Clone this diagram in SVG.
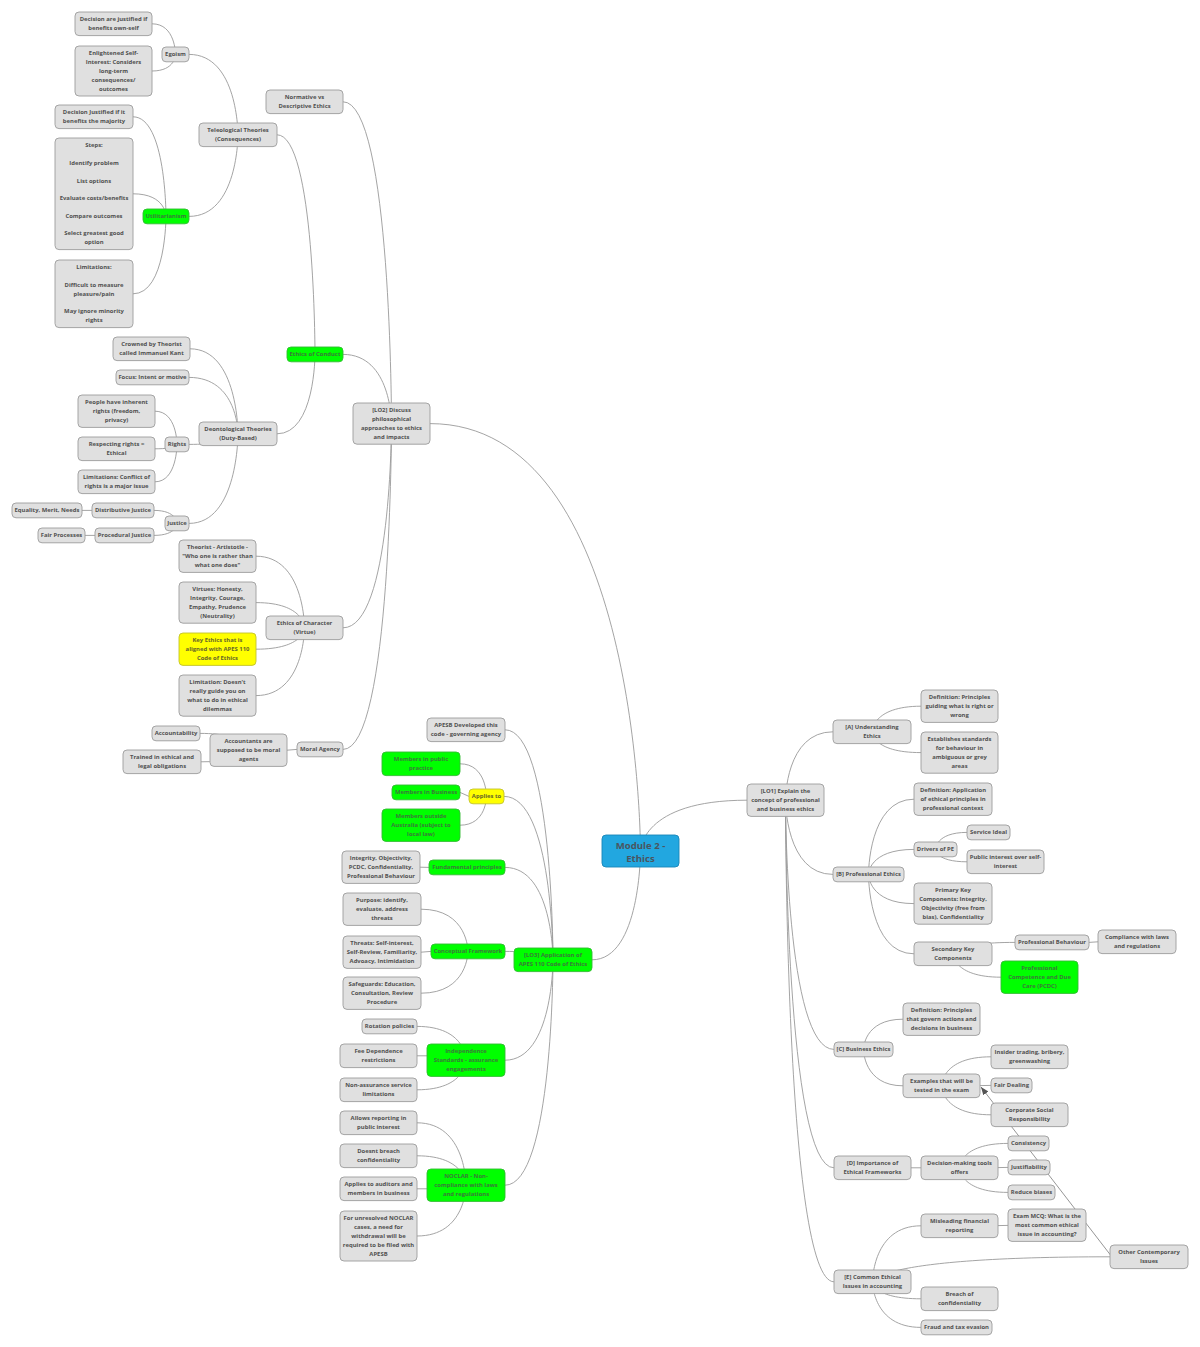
<svg xmlns="http://www.w3.org/2000/svg" width="1200" height="1347" viewBox="0 0 1200 1347">
<style>
.c{fill:none;stroke:#9a9a9a;stroke-width:0.9}
.r{fill:none;stroke:#8a8a8a;stroke-width:0.9}
.n{fill:#e0e0e0;stroke:#9c9c9c;stroke-width:0.9}
.g{fill:#00ff00;stroke:#33bb33;stroke-width:0.9}
.y{fill:#ffff00;stroke:#c2c22e;stroke-width:0.9}
.b{fill:#22a7e0;stroke:#1a86b8;stroke-width:0.9}
.t{font-family:"Open Sans","Noto Sans",sans-serif;font-weight:700;font-size:5.9px;fill:#505050;text-anchor:middle;dominant-baseline:central}
.tg{fill:#3b7a3b}
.ty{fill:#66662a}
.tb{font-size:9.6px;fill:#4a5560}
</style>
<defs>
<marker id="arr" viewBox="0 0 10 10" refX="10" refY="5" markerWidth="8" markerHeight="8" markerUnits="userSpaceOnUse" orient="auto"><path d="M0 1L10 5L0 9z" fill="#555"/></marker>
</defs>
<g id="connectors">
<path class="c" d="M152 23.8C175.5 23.8 175.5 54.4 175.5 54.4"/>
<path class="c" d="M152 71C175.5 71 175.5 54.4 175.5 54.4"/>
<path class="c" d="M189 54.4C238 54.4 238 134.8 238 134.8"/>
<path class="c" d="M189 216.4C238 216.4 238 134.8 238 134.8"/>
<path class="c" d="M133 116.8C166 116.8 166 216.4 166 216.4"/>
<path class="c" d="M133 193.8C166 193.8 166 216.4 166 216.4"/>
<path class="c" d="M133 293.8C166 293.8 166 216.4 166 216.4"/>
<path class="c" d="M277 134.8C315 134.8 315 354.4 315 354.4"/>
<path class="c" d="M277 433.8C315 433.8 315 354.4 315 354.4"/>
<path class="c" d="M343 101.8C391.5 101.8 391.5 423.6 391.5 423.6"/>
<path class="c" d="M343 354.4C391.5 354.4 391.5 423.6 391.5 423.6"/>
<path class="c" d="M343 627.8C391.5 627.8 391.5 423.6 391.5 423.6"/>
<path class="c" d="M343 749.4C391.5 749.4 391.5 423.6 391.5 423.6"/>
<path class="c" d="M190 348.8C238 348.8 238 433.8 238 433.8"/>
<path class="c" d="M189 377.4C238 377.4 238 433.8 238 433.8"/>
<path class="c" d="M189 444.4C238 444.4 238 433.8 238 433.8"/>
<path class="c" d="M189 523.4C238 523.4 238 433.8 238 433.8"/>
<path class="c" d="M155 411.2C177 411.2 177 444.4 177 444.4"/>
<path class="c" d="M155 448.8C177 448.8 177 444.4 177 444.4"/>
<path class="c" d="M155 481.8C177 481.8 177 444.4 177 444.4"/>
<path class="c" d="M154 510.4C177 510.4 177 523.4 177 523.4"/>
<path class="c" d="M154 535.4C177 535.4 177 523.4 177 523.4"/>
<path class="c" d="M82 510.4L92 510.4"/>
<path class="c" d="M85 535.4L95 535.4"/>
<path class="c" d="M256 556.2C304.5 556.2 304.5 627.8 304.5 627.8"/>
<path class="c" d="M256 602.6C304.5 602.6 304.5 627.8 304.5 627.8"/>
<path class="c" d="M256 649.2C304.5 649.2 304.5 627.8 304.5 627.8"/>
<path class="c" d="M256 695.6C304.5 695.6 304.5 627.8 304.5 627.8"/>
<path class="c" d="M287 750.2L297 749.4"/>
<path class="c" d="M200 733.4C248.5 733.4 248.5 750.2 248.5 750.2"/>
<path class="c" d="M201 761.8C248.5 761.8 248.5 750.2 248.5 750.2"/>
<path class="c" d="M430 423.6C640.5 423.6 640.5 851 640.5 851"/>
<path class="c" d="M592 959.8C640.5 959.8 640.5 851 640.5 851"/>
<path class="c" d="M747 800.2C640.5 800.2 640.5 851 640.5 851"/>
<path class="c" d="M505 729.8C553 729.8 553 959.8 553 959.8"/>
<path class="c" d="M504 796.4C553 796.4 553 959.8 553 959.8"/>
<path class="c" d="M505 867.4C553 867.4 553 959.8 553 959.8"/>
<path class="c" d="M505 951.4C553 951.4 553 959.8 553 959.8"/>
<path class="c" d="M505 1060.2C553 1060.2 553 959.8 553 959.8"/>
<path class="c" d="M505 1185.2C553 1185.2 553 959.8 553 959.8"/>
<path class="c" d="M460 763.8C486.5 763.8 486.5 796.4 486.5 796.4"/>
<path class="c" d="M460 792.4L469 796.4"/>
<path class="c" d="M460 825.2C486.5 825.2 486.5 796.4 486.5 796.4"/>
<path class="c" d="M420 867.2L429 867.4"/>
<path class="c" d="M421 909.2C468 909.2 468 951.4 468 951.4"/>
<path class="c" d="M421 952.2L431 951.4"/>
<path class="c" d="M421 993.2C468 993.2 468 951.4 468 951.4"/>
<path class="c" d="M417 1026.4C466 1026.4 466 1060.2 466 1060.2"/>
<path class="c" d="M417 1055.8L427 1055.8"/>
<path class="c" d="M417 1089.8C466 1089.8 466 1060.2 466 1060.2"/>
<path class="c" d="M417 1122.8C466 1122.8 466 1185.2 466 1185.2"/>
<path class="c" d="M417 1155.8C466 1155.8 466 1185.2 466 1185.2"/>
<path class="c" d="M417 1188.8L427 1188.8"/>
<path class="c" d="M417 1236C466 1236 466 1185.2 466 1185.2"/>
<path class="c" d="M833 731.8C785.5 731.8 785.5 800.2 785.5 800.2"/>
<path class="c" d="M833 874.4C785.5 874.4 785.5 800.2 785.5 800.2"/>
<path class="c" d="M834 1049.4C785.5 1049.4 785.5 800.2 785.5 800.2"/>
<path class="c" d="M834 1167.8C785.5 1167.8 785.5 800.2 785.5 800.2"/>
<path class="c" d="M834 1281.8C785.5 1281.8 785.5 800.2 785.5 800.2"/>
<path class="c" d="M921 706.2C872 706.2 872 731.8 872 731.8"/>
<path class="c" d="M921 752.6C872 752.6 872 731.8 872 731.8"/>
<path class="c" d="M914 799.2C868.5 799.2 868.5 874.4 868.5 874.4"/>
<path class="c" d="M914 849.4C868.5 849.4 868.5 874.4 868.5 874.4"/>
<path class="c" d="M914 903.6C868.5 903.6 868.5 874.4 868.5 874.4"/>
<path class="c" d="M914 953.8C868.5 953.8 868.5 874.4 868.5 874.4"/>
<path class="c" d="M967 832.4C935.5 832.4 935.5 849.4 935.5 849.4"/>
<path class="c" d="M967 861.8C935.5 861.8 935.5 849.4 935.5 849.4"/>
<path class="c" d="M1015 942.4C953 942.4 953 953.8 953 953.8"/>
<path class="c" d="M1001 977.2C953 977.2 953 953.8 953 953.8"/>
<path class="c" d="M1089 942.4L1098 941.8"/>
<path class="c" d="M903 1019.2C863.5 1019.2 863.5 1049.4 863.5 1049.4"/>
<path class="c" d="M903 1085.8C863.5 1085.8 863.5 1049.4 863.5 1049.4"/>
<path class="c" d="M991 1056.8C941.5 1056.8 941.5 1085.8 941.5 1085.8"/>
<path class="c" d="M991 1085.4L980 1085.6"/>
<path class="c" d="M991 1114.8C941.5 1114.8 941.5 1085.8 941.5 1085.8"/>
<path class="c" d="M921 1167.8L911 1167.8"/>
<path class="c" d="M1008 1143.4C959.5 1143.4 959.5 1167.8 959.5 1167.8"/>
<path class="c" d="M1008 1167.4L998 1167.6"/>
<path class="c" d="M1008 1192.4C959.5 1192.4 959.5 1167.8 959.5 1167.8"/>
<path class="c" d="M921 1225.8C872.5 1225.8 872.5 1281.8 872.5 1281.8"/>
<path class="c" d="M1110 1256.8C872.5 1256.8 872.5 1281.8 872.5 1281.8"/>
<path class="c" d="M921 1298.8C872.5 1298.8 872.5 1281.8 872.5 1281.8"/>
<path class="c" d="M921 1327.4C872.5 1327.4 872.5 1281.8 872.5 1281.8"/>
<path class="c" d="M998 1225.6L1008 1225.4"/>
<path class="r" d="M1112 1257L981 1087" marker-end="url(#arr)"/>
</g>
<g id="n-egoism-a"><rect class="n" x="75" y="12" width="77" height="23.6" rx="4"/><text class="t"><tspan x="113.5" y="19.4">Decision are justified if</tspan><tspan x="113.5" y="28.2">benefits own-self</tspan></text></g>
<g id="n-egoism-b"><rect class="n" x="75" y="46" width="77" height="50" rx="4"/><text class="t"><tspan x="113.5" y="53.4">Enlightened Self-</tspan><tspan x="113.5" y="62.2">Interest: Considers</tspan><tspan x="113.5" y="71">long-term</tspan><tspan x="113.5" y="79.8">consequences/</tspan><tspan x="113.5" y="88.6">outcomes</tspan></text></g>
<g id="n-egoism"><rect class="n" x="162" y="47" width="27" height="14.8" rx="4"/><text class="t" x="175.5" y="54.4">Egoism</text></g>
<g id="n-normative"><rect class="n" x="266" y="90" width="77" height="23.6" rx="4"/><text class="t"><tspan x="304.5" y="97.4">Normative vs</tspan><tspan x="304.5" y="106.2">Descriptive Ethics</tspan></text></g>
<g id="n-teleo"><rect class="n" x="199" y="123" width="78" height="23.6" rx="4"/><text class="t"><tspan x="238" y="130.4">Teleological Theories</tspan><tspan x="238" y="139.2">(Consequences)</tspan></text></g>
<g id="n-util-a"><rect class="n" x="55" y="105" width="78" height="23.6" rx="4"/><text class="t"><tspan x="94" y="112.4">Decision Justified if it</tspan><tspan x="94" y="121.2">benefits the majority</tspan></text></g>
<g id="n-steps"><rect class="n" x="55" y="138" width="78" height="111.6" rx="4"/><text class="t"><tspan x="94" y="145.4">Steps:</tspan><tspan x="94" y="163">Identify problem</tspan><tspan x="94" y="180.6">List options</tspan><tspan x="94" y="198.2">Evaluate costs/benefits</tspan><tspan x="94" y="215.8">Compare outcomes</tspan><tspan x="94" y="233.4">Select greatest good</tspan><tspan x="94" y="242.2">option</tspan></text></g>
<g id="n-util"><rect class="g" x="143" y="209" width="46" height="14.8" rx="4"/><text class="t tg" x="166" y="216.4">Utilitarianism</text></g>
<g id="n-limits"><rect class="n" x="55" y="260" width="78" height="67.6" rx="4"/><text class="t"><tspan x="94" y="267.4">Limitations:</tspan><tspan x="94" y="285">Difficult to measure</tspan><tspan x="94" y="293.8">pleasure/pain</tspan><tspan x="94" y="311.4">May ignore minority</tspan><tspan x="94" y="320.2">rights</tspan></text></g>
<g id="n-kant"><rect class="n" x="113" y="337" width="77" height="23.6" rx="4"/><text class="t"><tspan x="151.5" y="344.4">Crowned by Theorist</tspan><tspan x="151.5" y="353.2">called Immanuel Kant</tspan></text></g>
<g id="n-focus"><rect class="n" x="116" y="370" width="73" height="14.8" rx="4"/><text class="t" x="152.5" y="377.4">Focus: Intent or motive</text></g>
<g id="n-conduct"><rect class="g" x="287" y="347" width="56" height="14.8" rx="4"/><text class="t tg" x="315" y="354.4">Ethics of Conduct</text></g>
<g id="n-lo2"><rect class="n" x="353" y="403" width="77" height="41.2" rx="4"/><text class="t"><tspan x="391.5" y="410.4">[LO2] Discuss</tspan><tspan x="391.5" y="419.2">philosophical</tspan><tspan x="391.5" y="428">approaches to ethics</tspan><tspan x="391.5" y="436.8">and impacts</tspan></text></g>
<g id="n-people"><rect class="n" x="78" y="395" width="77" height="32.4" rx="4"/><text class="t"><tspan x="116.5" y="402.4">People have inherent</tspan><tspan x="116.5" y="411.2">rights (freedom,</tspan><tspan x="116.5" y="420">privacy)</tspan></text></g>
<g id="n-deon"><rect class="n" x="199" y="422" width="78" height="23.6" rx="4"/><text class="t"><tspan x="238" y="429.4">Deontological Theories</tspan><tspan x="238" y="438.2">(Duty-Based)</tspan></text></g>
<g id="n-rights"><rect class="n" x="165" y="437" width="24" height="14.8" rx="4"/><text class="t" x="177" y="444.4">Rights</text></g>
<g id="n-respect"><rect class="n" x="78" y="437" width="77" height="23.6" rx="4"/><text class="t"><tspan x="116.5" y="444.4">Respecting rights =</tspan><tspan x="116.5" y="453.2">Ethical</tspan></text></g>
<g id="n-conflict"><rect class="n" x="78" y="470" width="77" height="23.6" rx="4"/><text class="t"><tspan x="116.5" y="477.4">Limitations: Conflict of</tspan><tspan x="116.5" y="486.2">rights is a major issue</tspan></text></g>
<g id="n-equality"><rect class="n" x="12" y="503" width="70" height="14.8" rx="4"/><text class="t" x="47" y="510.4">Equality, Merit, Needs</text></g>
<g id="n-distrib"><rect class="n" x="92" y="503" width="62" height="14.8" rx="4"/><text class="t" x="123" y="510.4">Distributive Justice</text></g>
<g id="n-justice"><rect class="n" x="165" y="516" width="24" height="14.8" rx="4"/><text class="t" x="177" y="523.4">Justice</text></g>
<g id="n-fair"><rect class="n" x="38" y="528" width="47" height="14.8" rx="4"/><text class="t" x="61.5" y="535.4">Fair Processes</text></g>
<g id="n-proced"><rect class="n" x="95" y="528" width="59" height="14.8" rx="4"/><text class="t" x="124.5" y="535.4">Procedural Justice</text></g>
<g id="n-aristotle"><rect class="n" x="179" y="540" width="77" height="32.4" rx="4"/><text class="t"><tspan x="217.5" y="547.4">Theorist - Artistotle -</tspan><tspan x="217.5" y="556.2">"Who one is rather than</tspan><tspan x="217.5" y="565">what one does"</tspan></text></g>
<g id="n-virtues"><rect class="n" x="179" y="582" width="77" height="41.2" rx="4"/><text class="t"><tspan x="217.5" y="589.4">Virtues: Honesty,</tspan><tspan x="217.5" y="598.2">Integrity, Courage,</tspan><tspan x="217.5" y="607">Empathy, Prudence</tspan><tspan x="217.5" y="615.8">(Neutrality)</tspan></text></g>
<g id="n-character"><rect class="n" x="266" y="616" width="77" height="23.6" rx="4"/><text class="t"><tspan x="304.5" y="623.4">Ethics of Character</tspan><tspan x="304.5" y="632.2">(Virtue)</tspan></text></g>
<g id="n-keyethics"><rect class="y" x="179" y="633" width="77" height="32.4" rx="4"/><text class="t ty"><tspan x="217.5" y="640.4">Key Ethics that is</tspan><tspan x="217.5" y="649.2">aligned with APES 110</tspan><tspan x="217.5" y="658">Code of Ethics</tspan></text></g>
<g id="n-limitation"><rect class="n" x="179" y="675" width="77" height="41.2" rx="4"/><text class="t"><tspan x="217.5" y="682.4">Limitation: Doesn't</tspan><tspan x="217.5" y="691.2">really guide you on</tspan><tspan x="217.5" y="700">what to do in ethical</tspan><tspan x="217.5" y="708.8">dilemmas</tspan></text></g>
<g id="n-account"><rect class="n" x="152" y="726" width="48" height="14.8" rx="4"/><text class="t" x="176" y="733.4">Accountability</text></g>
<g id="n-agents"><rect class="n" x="210" y="734" width="77" height="32.4" rx="4"/><text class="t"><tspan x="248.5" y="741.4">Accountants are</tspan><tspan x="248.5" y="750.2">supposed to be moral</tspan><tspan x="248.5" y="759">agents</tspan></text></g>
<g id="n-trained"><rect class="n" x="123" y="750" width="78" height="23.6" rx="4"/><text class="t"><tspan x="162" y="757.4">Trained in ethical and</tspan><tspan x="162" y="766.2">legal obligations</tspan></text></g>
<g id="n-moral"><rect class="n" x="297" y="742" width="46" height="14.8" rx="4"/><text class="t" x="320" y="749.4">Moral Agency</text></g>
<g id="n-apesb"><rect class="n" x="427" y="718" width="78" height="23.6" rx="4"/><text class="t"><tspan x="466" y="725.4">APESB Developed this</tspan><tspan x="466" y="734.2">code - governing agency</tspan></text></g>
<g id="n-public"><rect class="g" x="382" y="752" width="78" height="23.6" rx="4"/><text class="t tg"><tspan x="421" y="759.4">Members in public</tspan><tspan x="421" y="768.2">practice</tspan></text></g>
<g id="n-business"><rect class="g" x="392" y="785" width="68" height="14.8" rx="4"/><text class="t tg" x="426" y="792.4">Members in Business</text></g>
<g id="n-applies"><rect class="y" x="469" y="789" width="35" height="14.8" rx="4"/><text class="t ty" x="486.5" y="796.4">Applies to</text></g>
<g id="n-outside"><rect class="g" x="382" y="809" width="78" height="32.4" rx="4"/><text class="t tg"><tspan x="421" y="816.4">Members outside</tspan><tspan x="421" y="825.2">Australia (subject to</tspan><tspan x="421" y="834">local law)</tspan></text></g>
<g id="n-integrity"><rect class="n" x="342" y="851" width="78" height="32.4" rx="4"/><text class="t"><tspan x="381" y="858.4">Integrity, Objectivity,</tspan><tspan x="381" y="867.2">PCDC, Confidentiality,</tspan><tspan x="381" y="876">Professional Behaviour</tspan></text></g>
<g id="n-fundamental"><rect class="g" x="429" y="860" width="76" height="14.8" rx="4"/><text class="t tg" x="467" y="867.4">Fundamental principles</text></g>
<g id="n-purpose"><rect class="n" x="343" y="893" width="78" height="32.4" rx="4"/><text class="t"><tspan x="382" y="900.4">Purpose: identify,</tspan><tspan x="382" y="909.2">evaluate, address</tspan><tspan x="382" y="918">threats</tspan></text></g>
<g id="n-threats"><rect class="n" x="343" y="936" width="78" height="32.4" rx="4"/><text class="t"><tspan x="382" y="943.4">Threats: Self-interest,</tspan><tspan x="382" y="952.2">Self-Review, Familiarity,</tspan><tspan x="382" y="961">Advoacy, Intimidation</tspan></text></g>
<g id="n-conceptual"><rect class="g" x="431" y="944" width="74" height="14.8" rx="4"/><text class="t tg" x="468" y="951.4">Conceptual Framework</text></g>
<g id="n-lo3"><rect class="g" x="514" y="948" width="78" height="23.6" rx="4"/><text class="t tg"><tspan x="553" y="955.4">[LO3] Application of</tspan><tspan x="553" y="964.2">APES 110 Code of Ethics</tspan></text></g>
<g id="n-safeguards"><rect class="n" x="343" y="977" width="78" height="32.4" rx="4"/><text class="t"><tspan x="382" y="984.4">Safeguards: Education,</tspan><tspan x="382" y="993.2">Consultation, Review</tspan><tspan x="382" y="1002">Procedure</tspan></text></g>
<g id="n-rotation"><rect class="n" x="362" y="1019" width="55" height="14.8" rx="4"/><text class="t" x="389.5" y="1026.4">Rotation policies</text></g>
<g id="n-fee"><rect class="n" x="340" y="1044" width="77" height="23.6" rx="4"/><text class="t"><tspan x="378.5" y="1051.4">Fee Dependence</tspan><tspan x="378.5" y="1060.2">restrictions</tspan></text></g>
<g id="n-independence"><rect class="g" x="427" y="1044" width="78" height="32.4" rx="4"/><text class="t tg"><tspan x="466" y="1051.4">Independence</tspan><tspan x="466" y="1060.2">Standards - assurance</tspan><tspan x="466" y="1069">engagements</tspan></text></g>
<g id="n-nonassurance"><rect class="n" x="340" y="1078" width="77" height="23.6" rx="4"/><text class="t"><tspan x="378.5" y="1085.4">Non-assurance service</tspan><tspan x="378.5" y="1094.2">limitations</tspan></text></g>
<g id="n-allows"><rect class="n" x="340" y="1111" width="77" height="23.6" rx="4"/><text class="t"><tspan x="378.5" y="1118.4">Allows reporting in</tspan><tspan x="378.5" y="1127.2">public interest</tspan></text></g>
<g id="n-doesnt"><rect class="n" x="340" y="1144" width="77" height="23.6" rx="4"/><text class="t"><tspan x="378.5" y="1151.4">Doesnt breach</tspan><tspan x="378.5" y="1160.2">confidentiality</tspan></text></g>
<g id="n-auditors"><rect class="n" x="340" y="1177" width="77" height="23.6" rx="4"/><text class="t"><tspan x="378.5" y="1184.4">Applies to auditors and</tspan><tspan x="378.5" y="1193.2">members in business</tspan></text></g>
<g id="n-noclar"><rect class="g" x="427" y="1169" width="78" height="32.4" rx="4"/><text class="t tg"><tspan x="466" y="1176.4">NOCLAR - Non-</tspan><tspan x="466" y="1185.2">compliance with laws</tspan><tspan x="466" y="1194">and regulations</tspan></text></g>
<g id="n-unresolved"><rect class="n" x="340" y="1211" width="77" height="50" rx="4"/><text class="t"><tspan x="378.5" y="1218.4">For unresolved NOCLAR</tspan><tspan x="378.5" y="1227.2">cases, a need for</tspan><tspan x="378.5" y="1236">withdrawal will be</tspan><tspan x="378.5" y="1244.8">required to be filed with</tspan><tspan x="378.5" y="1253.6">APESB</tspan></text></g>
<g id="n-root"><rect class="b" x="602" y="835" width="77" height="32" rx="4"/><text class="t tb"><tspan x="640.5" y="844.5">Module 2 -</tspan><tspan x="640.5" y="857.5">Ethics</tspan></text></g>
<g id="n-lo1"><rect class="n" x="747" y="784" width="77" height="32.4" rx="4"/><text class="t"><tspan x="785.5" y="791.4">[LO1] Explain the</tspan><tspan x="785.5" y="800.2">concept of professional</tspan><tspan x="785.5" y="809">and business ethics</tspan></text></g>
<g id="n-a"><rect class="n" x="833" y="720" width="78" height="23.6" rx="4"/><text class="t"><tspan x="872" y="727.4">[A] Understanding</tspan><tspan x="872" y="736.2">Ethics</tspan></text></g>
<g id="n-a1"><rect class="n" x="921" y="690" width="77" height="32.4" rx="4"/><text class="t"><tspan x="959.5" y="697.4">Definition: Principles</tspan><tspan x="959.5" y="706.2">guiding what is right or</tspan><tspan x="959.5" y="715">wrong</tspan></text></g>
<g id="n-a2"><rect class="n" x="921" y="732" width="77" height="41.2" rx="4"/><text class="t"><tspan x="959.5" y="739.4">Establishes standards</tspan><tspan x="959.5" y="748.2">for behaviour in</tspan><tspan x="959.5" y="757">ambiguous or grey</tspan><tspan x="959.5" y="765.8">areas</tspan></text></g>
<g id="n-b1"><rect class="n" x="914" y="783" width="78" height="32.4" rx="4"/><text class="t"><tspan x="953" y="790.4">Definition: Application</tspan><tspan x="953" y="799.2">of ethical principles in</tspan><tspan x="953" y="808">professional context</tspan></text></g>
<g id="n-service"><rect class="n" x="967" y="825" width="43" height="14.8" rx="4"/><text class="t" x="988.5" y="832.4">Service Ideal</text></g>
<g id="n-drivers"><rect class="n" x="914" y="842" width="43" height="14.8" rx="4"/><text class="t" x="935.5" y="849.4">Drivers of PE</text></g>
<g id="n-publicint"><rect class="n" x="967" y="850" width="77" height="23.6" rx="4"/><text class="t"><tspan x="1005.5" y="857.4">Public interest over self-</tspan><tspan x="1005.5" y="866.2">interest</tspan></text></g>
<g id="n-b"><rect class="n" x="833" y="867" width="71" height="14.8" rx="4"/><text class="t" x="868.5" y="874.4">[B] Professional Ethics</text></g>
<g id="n-primary"><rect class="n" x="914" y="883" width="78" height="41.2" rx="4"/><text class="t"><tspan x="953" y="890.4">Primary Key</tspan><tspan x="953" y="899.2">Components: Integrity,</tspan><tspan x="953" y="908">Objectivity (free from</tspan><tspan x="953" y="916.8">bias), Confidentiality</tspan></text></g>
<g id="n-secondary"><rect class="n" x="914" y="942" width="78" height="23.6" rx="4"/><text class="t"><tspan x="953" y="949.4">Secondary Key</tspan><tspan x="953" y="958.2">Components</tspan></text></g>
<g id="n-profbeh"><rect class="n" x="1015" y="935" width="74" height="14.8" rx="4"/><text class="t" x="1052" y="942.4">Professional Behaviour</text></g>
<g id="n-compliance"><rect class="n" x="1098" y="930" width="78" height="23.6" rx="4"/><text class="t"><tspan x="1137" y="937.4">Compliance with laws</tspan><tspan x="1137" y="946.2">and regulations</tspan></text></g>
<g id="n-pcdc"><rect class="g" x="1001" y="961" width="77" height="32.4" rx="4"/><text class="t tg"><tspan x="1039.5" y="968.4">Professional</tspan><tspan x="1039.5" y="977.2">Competence and Due</tspan><tspan x="1039.5" y="986">Care (PCDC)</tspan></text></g>
<g id="n-c1"><rect class="n" x="903" y="1003" width="77" height="32.4" rx="4"/><text class="t"><tspan x="941.5" y="1010.4">Definition: Principles</tspan><tspan x="941.5" y="1019.2">that govern actions and</tspan><tspan x="941.5" y="1028">decisions in business</tspan></text></g>
<g id="n-c"><rect class="n" x="834" y="1042" width="59" height="14.8" rx="4"/><text class="t" x="863.5" y="1049.4">[C] Business Ethics</text></g>
<g id="n-insider"><rect class="n" x="991" y="1045" width="77" height="23.6" rx="4"/><text class="t"><tspan x="1029.5" y="1052.4">Insider trading, bribery,</tspan><tspan x="1029.5" y="1061.2">greenwashing</tspan></text></g>
<g id="n-examples"><rect class="n" x="903" y="1074" width="77" height="23.6" rx="4"/><text class="t"><tspan x="941.5" y="1081.4">Examples that will be</tspan><tspan x="941.5" y="1090.2">tested in the exam</tspan></text></g>
<g id="n-fairdeal"><rect class="n" x="991" y="1078" width="41" height="14.8" rx="4"/><text class="t" x="1011.5" y="1085.4">Fair Dealing</text></g>
<g id="n-csr"><rect class="n" x="991" y="1103" width="77" height="23.6" rx="4"/><text class="t"><tspan x="1029.5" y="1110.4">Corporate Social</tspan><tspan x="1029.5" y="1119.2">Responsibility</tspan></text></g>
<g id="n-consistency"><rect class="n" x="1008" y="1136" width="41" height="14.8" rx="4"/><text class="t" x="1028.5" y="1143.4">Consistency</text></g>
<g id="n-d"><rect class="n" x="834" y="1156" width="77" height="23.6" rx="4"/><text class="t"><tspan x="872.5" y="1163.4">[D] Importance of</tspan><tspan x="872.5" y="1172.2">Ethical Frameworks</tspan></text></g>
<g id="n-tools"><rect class="n" x="921" y="1156" width="77" height="23.6" rx="4"/><text class="t"><tspan x="959.5" y="1163.4">Decision-making tools</tspan><tspan x="959.5" y="1172.2">offers</tspan></text></g>
<g id="n-justif"><rect class="n" x="1008" y="1160" width="42" height="14.8" rx="4"/><text class="t" x="1029" y="1167.4">Justifiability</text></g>
<g id="n-reduce"><rect class="n" x="1008" y="1185" width="47" height="14.8" rx="4"/><text class="t" x="1031.5" y="1192.4">Reduce biases</text></g>
<g id="n-misleading"><rect class="n" x="921" y="1214" width="77" height="23.6" rx="4"/><text class="t"><tspan x="959.5" y="1221.4">Misleading financial</tspan><tspan x="959.5" y="1230.2">reporting</tspan></text></g>
<g id="n-exammcq"><rect class="n" x="1008" y="1209" width="78" height="32.4" rx="4"/><text class="t"><tspan x="1047" y="1216.4">Exam MCQ: What is the</tspan><tspan x="1047" y="1225.2">most common ethical</tspan><tspan x="1047" y="1234">issue in accounting?</tspan></text></g>
<g id="n-other"><rect class="n" x="1110" y="1245" width="78" height="23.6" rx="4"/><text class="t"><tspan x="1149" y="1252.4">Other Contemporary</tspan><tspan x="1149" y="1261.2">Issues</tspan></text></g>
<g id="n-e"><rect class="n" x="834" y="1270" width="77" height="23.6" rx="4"/><text class="t"><tspan x="872.5" y="1277.4">[E] Common Ethical</tspan><tspan x="872.5" y="1286.2">Issues in accounting</tspan></text></g>
<g id="n-breach"><rect class="n" x="921" y="1287" width="77" height="23.6" rx="4"/><text class="t"><tspan x="959.5" y="1294.4">Breach of</tspan><tspan x="959.5" y="1303.2">confidentiality</tspan></text></g>
<g id="n-fraud"><rect class="n" x="921" y="1320" width="71" height="14.8" rx="4"/><text class="t" x="956.5" y="1327.4">Fraud and tax evasion</text></g>
</svg>
